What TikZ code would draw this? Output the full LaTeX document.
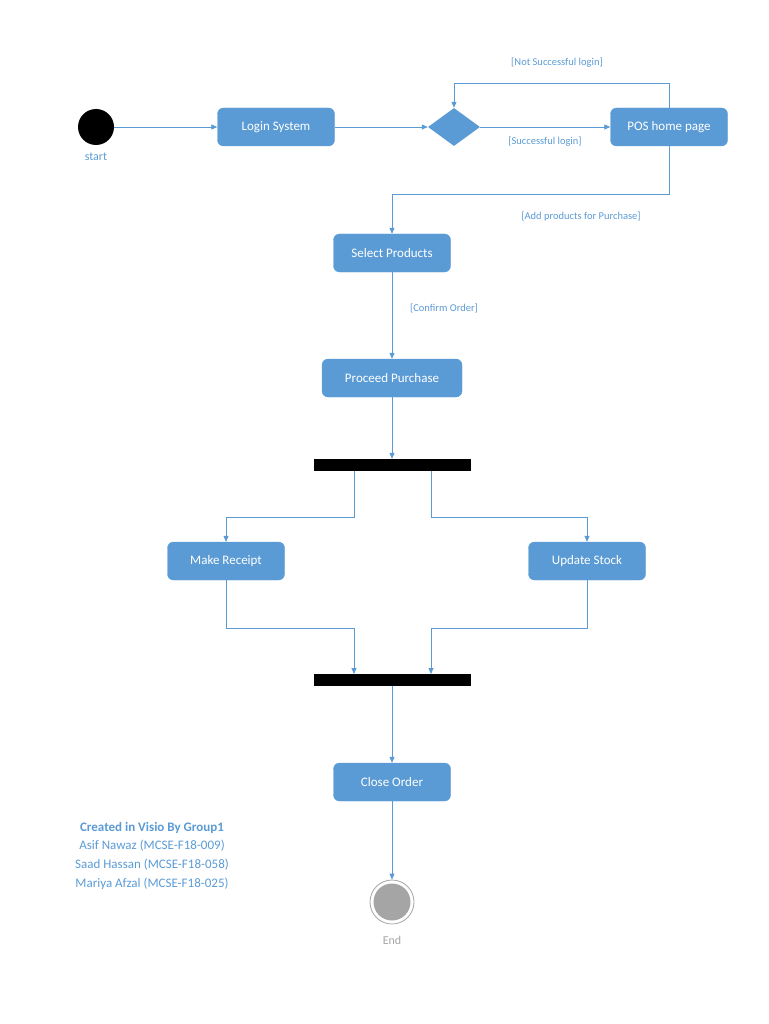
\documentclass[tikz,border=0pt]{standalone}
\usepackage{fontspec}
\setmainfont{Carlito}
\usetikzlibrary{shapes.geometric,arrows.meta}
\definecolor{vblue}{HTML}{5B9BD5}
\definecolor{vgrey}{HTML}{A5A5A5}
\begin{document}
\begin{tikzpicture}[x=1pt,y=-1pt,
  act/.style={draw=vblue,fill=vblue,rounded corners=6pt,minimum width=117pt,minimum height=38pt,text=white,font=\fontsize{13}{15}\selectfont,inner sep=0pt},
  bar/.style={fill=black,minimum width=157pt,minimum height=12pt,inner sep=0pt},
  lbl/.style={text=vblue,font=\fontsize{10.5}{12}\selectfont},
  flow/.style={draw=vblue,line width=0.8pt,-{Triangle[length=6pt,width=5pt]}}]
\useasboundingbox (0,0) rectangle (768,1024);
\node[circle,fill=black,minimum size=36pt,inner sep=0pt] (start) at (96,127) {};
\node[lbl,font=\fontsize{12}{14}\selectfont] (startl) at (96,157) {start};
\node[act] (login) at (276,127) {Login System};
\node[diamond,fill=vblue,minimum width=52pt,minimum height=38pt,inner sep=0pt] (dec) at (454,127) {};
\node[act] (pos) at (669,127) {POS home page};
\node[act] (sel) at (392,253) {Select Products};
\node[act,minimum width=140pt] (proc) at (392,378) {Proceed Purchase};
\node[bar] (fork) at (392,465) {};
\node[act] (rec) at (226,561) {Make Receipt};
\node[act] (upd) at (587,561) {Update Stock};
\node[bar] (join) at (392,680) {};
\node[act] (close) at (392,782) {Close Order};
\node[circle,draw=vgrey,line width=0.8pt,fill=white,minimum size=44pt,inner sep=0pt] (end) at (392,902) {};
\node[circle,fill=vgrey,minimum size=37pt,inner sep=0pt] (endin) at (392,902) {};
\node[text=vgrey,font=\fontsize{12}{14}\selectfont] (endl) at (392,940) {End};

\coordinate (c1) at (669,83); \coordinate (c2) at (454,83);
\coordinate (c3) at (669,194); \coordinate (c4) at (392,194);
\coordinate (f1) at (354,471); \coordinate (f2) at (431,471);
\coordinate (f1b) at (354,517); \coordinate (f2b) at (431,517);
\coordinate (f1c) at (226,517); \coordinate (f2c) at (587,517);
\coordinate (j1) at (226,628); \coordinate (j2) at (587,628);
\coordinate (j1b) at (354,628); \coordinate (j2b) at (431,628);
\coordinate (j1c) at (354,674); \coordinate (j2c) at (431,674);

\draw[flow] (start) -- (login);
\draw[flow] (login) -- (dec);
\draw[flow] (dec) -- (pos);
\draw[flow] (pos.north) -- (c1) -- (c2) -- (dec.north);
\draw[flow] (pos.south) -- (c3) -- (c4) -- (sel.north);
\draw[flow] (sel) -- (proc);
\draw[flow] (proc) -- (fork);
\draw[flow] (f1) -- (f1b) -- (f1c) -- (rec.north);
\draw[flow] (f2) -- (f2b) -- (f2c) -- (upd.north);
\draw[flow] (rec.south) -- (j1) -- (j1b) -- (j1c);
\draw[flow] (upd.south) -- (j2) -- (j2b) -- (j2c);
\draw[flow] (join) -- (close);
\draw[flow] (close) -- (end);

\node[lbl] (l1) at (557,63) {[Not Successful login]};
\node[lbl] (l2) at (545,142) {[Successful login]};
\node[lbl] (l3) at (581,217) {[Add products for Purchase]};
\node[lbl] (l4) at (444,308) {[Confirm Order]};
\node[text=vblue,font=\bfseries\fontsize{13}{15}\selectfont] (t1) at (152,828) {Created in Visio By Group1};
\node[text=vblue,font=\fontsize{13}{15}\selectfont] (t2) at (152,846) {Asif Nawaz (MCSE-F18-009)};
\node[text=vblue,font=\fontsize{13}{15}\selectfont] (t3) at (152,865) {Saad Hassan (MCSE-F18-058)};
\node[text=vblue,font=\fontsize{13}{15}\selectfont] (t4) at (152,884) {Mariya Afzal (MCSE-F18-025)};
\end{tikzpicture}
\end{document}
